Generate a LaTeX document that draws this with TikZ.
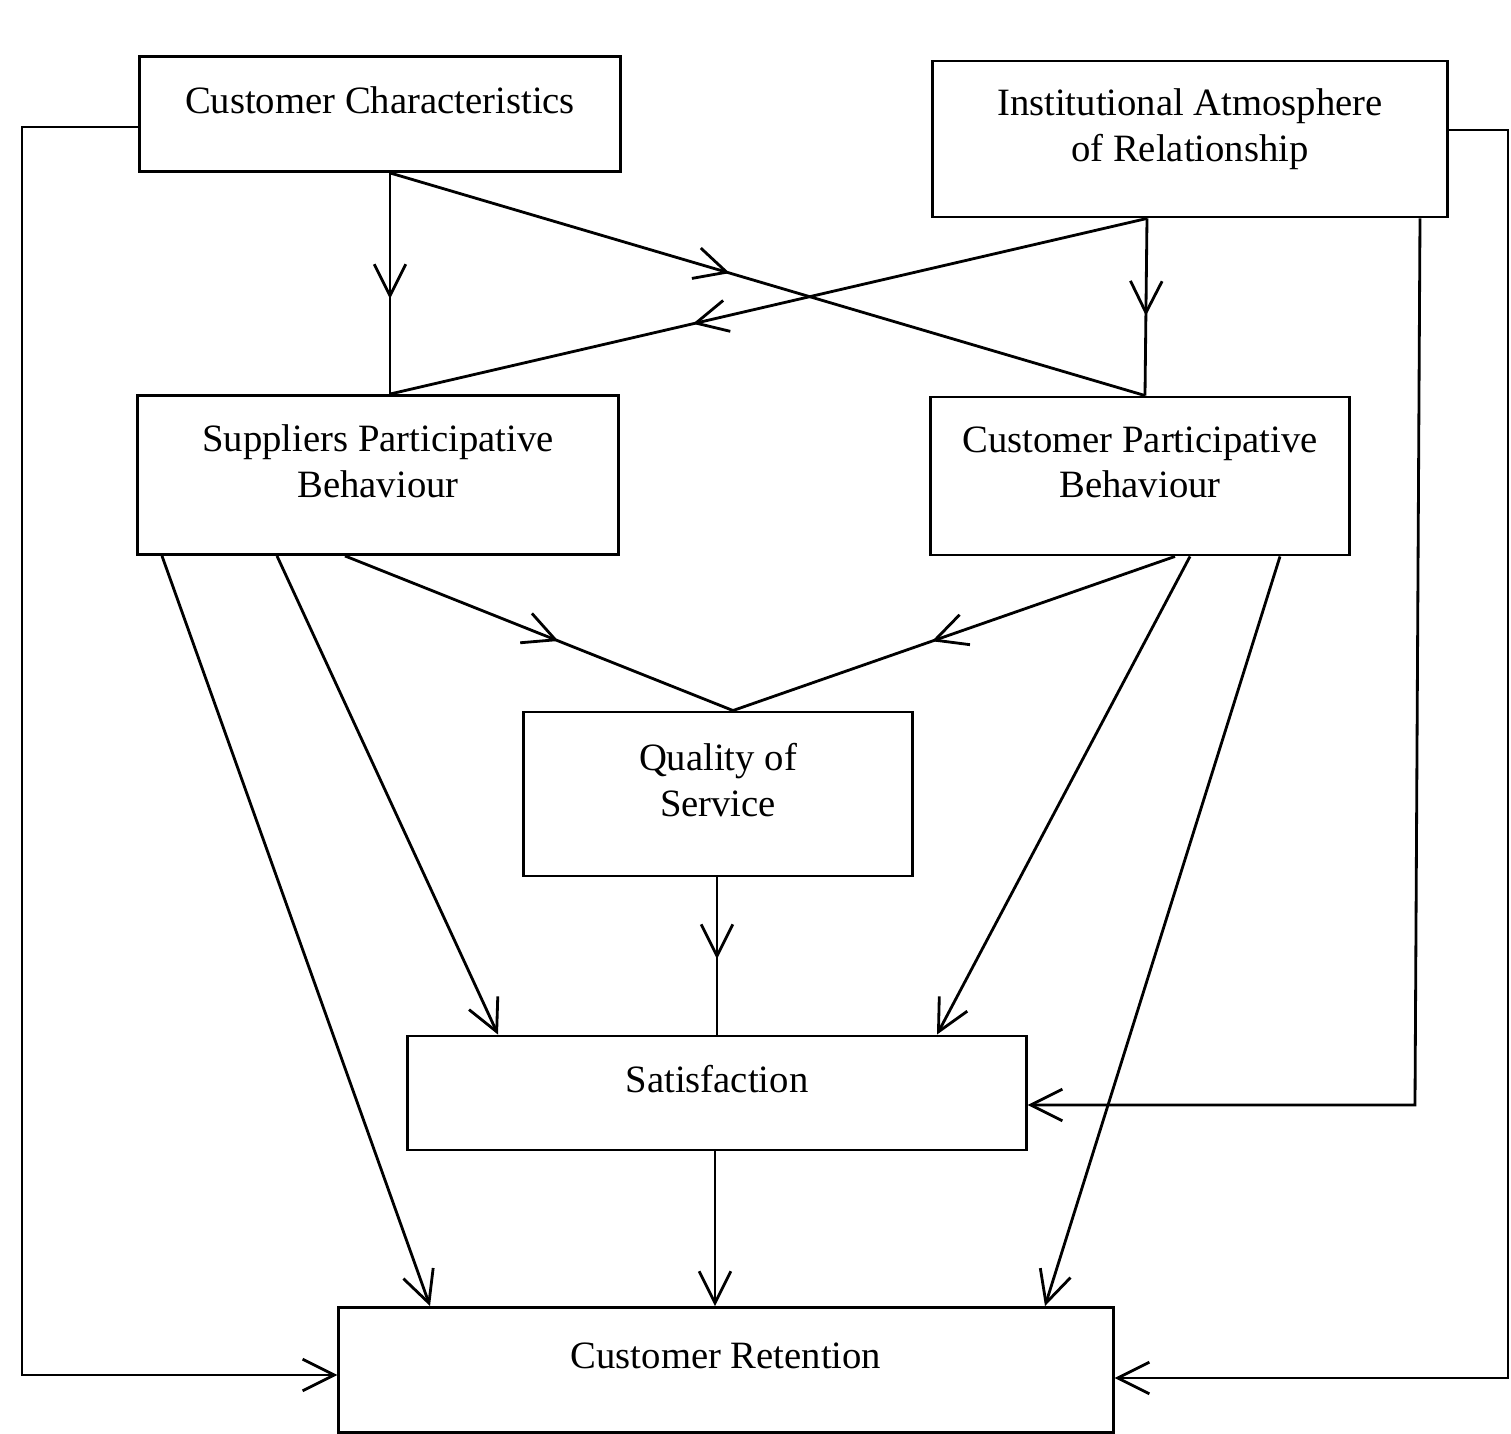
\documentclass[tikz,border=0pt]{standalone}
\usepackage{fontspec}
\setmainfont{Liberation Serif}
\usetikzlibrary{arrows.meta,decorations.markings}
\begin{document}
\begin{tikzpicture}[x=0.01cm,y=-0.01cm,
    box/.style={draw, line width=0.8pt, align=center, font=\fontsize{11}{13}\selectfont, inner sep=0pt},
    >={Straight Barb[length=9pt,width=9pt]},
    con/.style={line width=0.8pt},
    mid/.style={con, postaction={decorate}, decoration={markings, mark=at position #1 with {\arrow{>}}}},
    mid/.default=0.5]
    \useasboundingbox (0,0) rectangle (1511,1434);

    \node[box, minimum width=4.8cm, minimum height=1.15cm] (cc) at (380,114) {Customer Characteristics\\[-9pt]\strut};
    \node[box, minimum width=5.14cm, minimum height=1.56cm] (ia) at (1190,139) {Institutional Atmosphere\\of Relationship\\[-9pt]\strut};
    \node[box, minimum width=4.8cm, minimum height=1.59cm] (spb) at (378,475) {Suppliers Participative\\Behaviour\\[-9pt]\strut};
    \node[box, minimum width=4.19cm, minimum height=1.58cm] (cpb) at (1140,476) {Customer Participative\\Behaviour\\[-9pt]\strut};
    \node[box, minimum width=3.89cm, minimum height=1.64cm] (qs) at (718,794) {Quality of\\Service\\[-9pt]\strut};
    \node[box, minimum width=6.18cm, minimum height=1.14cm] (sat) at (717,1093) {Satisfaction\\[-9pt]\strut};
    \node[box, minimum width=7.74cm, minimum height=1.25cm] (cr) at (726,1370) {Customer Retention\\[-9pt]\strut};

    % top layer
    \draw[mid=0.57] (cc.south -| 390,0) -- (spb.north -| 390,0);
    \draw[mid=0.45] (cc.south -| 390,0) -- (cpb.north -| 1145,0);
    \draw[mid=0.55] (ia.south -| 1147,0) -- (cpb.north -| 1145,0);
    \draw[mid=0.6] (ia.south -| 1147,0) -- (spb.north -| 390,0);

    % into quality of service
    \draw[mid=0.55] (spb.south -| 345,0) -- (qs.north -| 733,0);
    \draw[mid=0.55] (cpb.south -| 1175,0) -- (qs.north -| 733,0);
    \draw[mid=0.52] (qs.south -| 717,0) -- (sat.north -| 717,0);

    % into satisfaction and retention
    \draw[con,->] (spb.south -| 277,0) -- (sat.north -| 498,0);
    \draw[con,->] (spb.south -| 162,0) -- (cr.north -| 430,0);
    \draw[con,->] (cpb.south -| 1190,0) -- (sat.north -| 937,0);
    \draw[con,->] (cpb.south -| 1280,0) -- (cr.north -| 1045,0);
    \draw[con,->] (sat.south -| 715,0) -- (cr.north -| 715,0);

    % side loops
    \draw[con,->] (cc.west |- 0,127) -- (22,127) -- (22,1375) -- (cr.west |- 0,1375);
    \draw[con,->] (ia.south -| 1420,0) -- (1415,1105) -- (sat.east |- 0,1105);
    \draw[con,->] (ia.east |- 0,130) -- (1508,130) -- (1508,1378) -- (cr.east |- 0,1378);
\end{tikzpicture}
\end{document}
